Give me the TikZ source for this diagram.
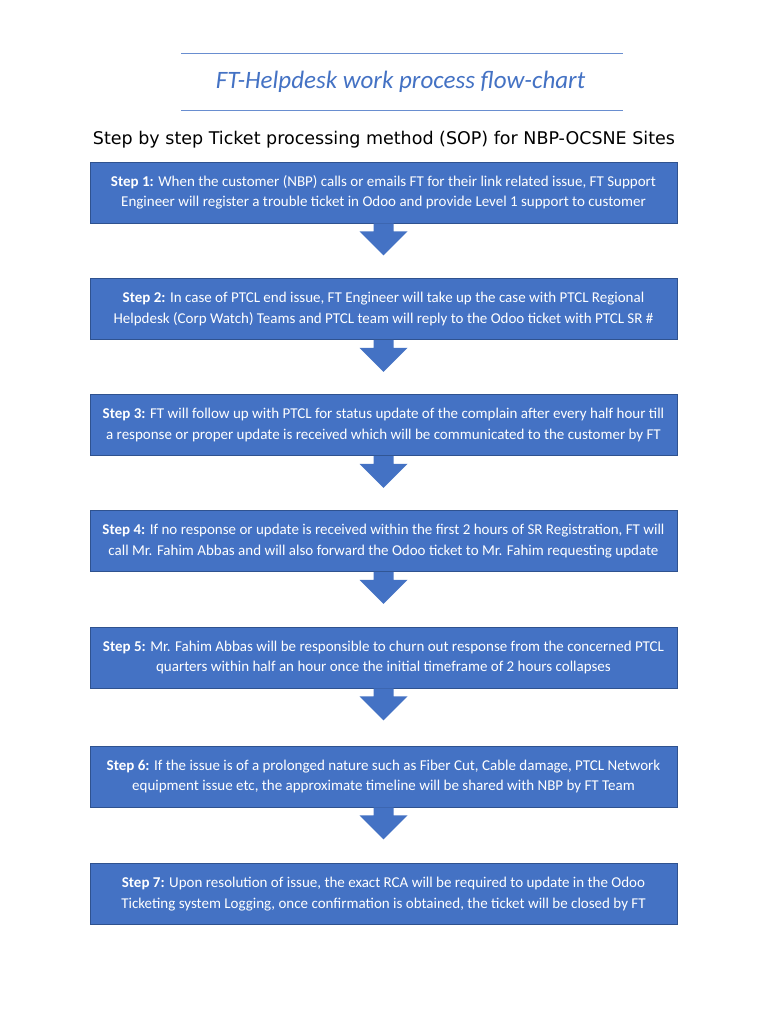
\documentclass[tikz,border=0pt]{standalone}
\usepackage{fontspec}
\setmainfont{Carlito}
\newfontfamily\subfont{DejaVu Sans}
\usetikzlibrary{calc}
\definecolor{boxblue}{HTML}{4472C4}
\definecolor{boxedge}{HTML}{2F528F}
\tikzset{
  stepbox/.style={draw=boxedge, line width=0.8pt, fill=boxblue, text=white,
    minimum width=587pt, minimum height=61pt, align=center, inner sep=0pt,
    font=\fontsize{15pt}{20.5pt}\selectfont},
  downarrow/.style={fill=boxblue, draw=none},
  ruleline/.style={draw=boxblue!80, line width=0.8pt}
}
\newcommand{\stepdown}[1]{%
  \fill[downarrow] ($(#1.south)+(-10,0)$) -- ($(#1.south)+(-10,8)$) -- ($(#1.south)+(-24,8)$)
    -- ($(#1.south)+(0,32)$) -- ($(#1.south)+(24,8)$) -- ($(#1.south)+(10,8)$)
    -- ($(#1.south)+(10,0)$) -- cycle;}
\begin{document}
\begin{tikzpicture}[x=1pt,y=-1pt]
\useasboundingbox[fill=white] (0,0) rectangle (768,1024);
\coordinate (l1a) at (181,53); \coordinate (l1b) at (623,53);
\coordinate (l2a) at (181,110); \coordinate (l2b) at (623,110);
\draw[ruleline] (l1a) -- (l1b);
\draw[ruleline] (l2a) -- (l2b);
\node[text=boxblue, font=\fontsize{25pt}{29pt}\selectfont\itshape] (title) at (400.5,82) {FT-Helpdesk work process flow-chart};
\node[font=\subfont\fontsize{17.5pt}{20pt}\selectfont] (sub) at (384,139.5) {Step by step Ticket processing method (SOP) for NBP-OCSNE Sites};

\node[stepbox] (s1) at (383.5,192.5) {\textbf{Step 1:} When the customer (NBP) calls or emails FT for their link related issue, FT Support\\Engineer will register a trouble ticket in Odoo and provide Level 1 support to customer};
\node[stepbox] (s2) at (383.5,309) {\textbf{Step 2:} In case of PTCL end issue, FT Engineer will take up the case with PTCL Regional\\Helpdesk (Corp Watch) Teams and PTCL team will reply to the Odoo ticket with PTCL SR \#};
\node[stepbox] (s3) at (383.5,425) {\textbf{Step 3:} FT will follow up with PTCL for status update of the complain after every half hour till\\a response or proper update is received which will be communicated to the customer by FT};
\node[stepbox] (s4) at (383.5,541) {\textbf{Step 4:} If no response or update is received within the first 2 hours of SR Registration, FT will\\call Mr. Fahim Abbas and will also forward the Odoo ticket to Mr. Fahim requesting update};
\node[stepbox] (s5) at (383.5,657.5) {\textbf{Step 5:} Mr. Fahim Abbas will be responsible to churn out response from the concerned PTCL\\quarters within half an hour once the initial timeframe of 2 hours collapses};
\node[stepbox] (s6) at (383.5,776.5) {\textbf{Step 6:} If the issue is of a prolonged nature such as Fiber Cut, Cable damage, PTCL Network\\equipment issue etc, the approximate timeline will be shared with NBP by FT Team};
\node[stepbox] (s7) at (383.5,894) {\textbf{Step 7:} Upon resolution of issue, the exact RCA will be required to update in the Odoo\\Ticketing system Logging, once confirmation is obtained, the ticket will be closed by FT};

\stepdown{s1}
\stepdown{s2}
\stepdown{s3}
\stepdown{s4}
\stepdown{s5}
\stepdown{s6}
\end{tikzpicture}
\end{document}
